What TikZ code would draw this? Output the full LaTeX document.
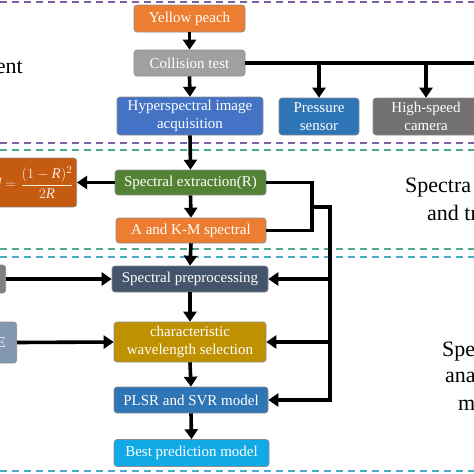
\documentclass[tikz,border=0pt]{standalone}
\usepackage{amsmath}
\usepackage{fontspec}
\setmainfont{Liberation Serif}
\usetikzlibrary{arrows.meta}
\definecolor{cOrange}{HTML}{ED7D31}
\definecolor{cGrayL}{HTML}{A0A0A0}
\definecolor{cBlueA}{HTML}{4472C4}
\definecolor{cBlueB}{HTML}{2E75B6}
\definecolor{cGrayD}{HTML}{737070}
\definecolor{cGreen}{HTML}{548235}
\definecolor{cRust}{HTML}{C55A11}
\definecolor{cSlate}{HTML}{44546A}
\definecolor{cGrayM}{HTML}{7F7F7F}
\definecolor{cBlueGray}{HTML}{8497B0}
\definecolor{cGold}{HTML}{BF9000}
\definecolor{cSky}{HTML}{11A9E6}
\definecolor{cPurple}{HTML}{7E60A8}
\definecolor{cTeal}{HTML}{4DAA8C}
\definecolor{cCyan}{HTML}{4BADCB}
\definecolor{cPeach}{HTML}{FCE8DA}
\begin{document}
\begin{tikzpicture}[x=1pt,y=-1pt,
  box/.style={draw=black!45, line width=0.6pt, rounded corners=3pt, text=white,
    font=\fontsize{15}{18}\selectfont, align=center, inner sep=0pt},
  arr/.style={line width=3.6pt, -{Triangle[length=10pt,width=13pt]}},
  ln/.style={line width=3.2pt},
  sep/.style={line width=1.8pt, dash pattern=on 7pt off 5pt},
  big/.style={font=\fontsize{22}{26}\selectfont, inner sep=0pt}]
\clip (0,0) rectangle (474,474);
% separators
\draw[sep, cPurple] (0,2) -- (474,2);
\draw[sep, cPurple] (0,143) -- (474,143);
\draw[sep, cTeal] (0,150) -- (474,150);
\draw[sep, cTeal] (0,249) -- (474,249);
\draw[sep, cCyan] (0,257) -- (474,257);
\draw[sep, cCyan] (0,471) -- (474,471);
% side texts
\node[big, anchor=base east] (t1) at (23,73) {ent};
\node[big, anchor=base west] (t2) at (405,192) {Spectra};
\node[big, anchor=base west] (t3) at (427,220) {and tr};
\node[big, anchor=base west] (t4) at (442,356) {Spe};
\node[big, anchor=base west] (t5) at (445,382) {ana};
\node[big, anchor=base west] (t6) at (458,410) {m};
% boxes
\node[box, fill=cOrange, minimum width=111pt, minimum height=27pt] (yp) at (189.5,18.5) {Yellow peach};
\node[box, fill=cGrayL, minimum width=111pt, minimum height=26pt] (ct) at (189.5,63) {Collision test};
\node[box, fill=cBlueA, minimum width=146pt, minimum height=38pt] (hia) at (190,116) {Hyperspectral image\\acquisition};
\node[box, fill=cBlueB, minimum width=80pt, minimum height=37pt] (ps) at (319,116.5) {Pressure\\sensor};
\node[box, fill=cGrayD, minimum width=106pt, minimum height=37pt] (hs) at (426,116.5) {High-speed\\camera};
\node[box, fill=cGreen, minimum width=151pt, minimum height=25pt] (se) at (190.5,182.5) {Spectral extraction(R)};
\node[box, fill=cRust, text=cPeach, minimum width=86pt, minimum height=49pt, anchor=east] (fb) at (77,182.5)
  {$\textit{d} = \dfrac{(1-\textit{R})^2}{2\textit{R}}$};
\node[box, fill=cOrange, minimum width=150pt, minimum height=25pt] (ak) at (191,230.5) {A and K-M spectral};
\node[box, fill=cSlate, minimum width=156pt, minimum height=26pt] (sp) at (190,279) {Spectral preprocessing};
\node[box, fill=cGrayM, minimum width=40pt, minimum height=28pt, anchor=east] (lg) at (6,279) {};
\node[box, fill=cGold, minimum width=152pt, minimum height=40pt] (cw) at (190,342) {characteristic\\wavelength selection};
\node[box, fill=cBlueGray, minimum width=50pt, minimum height=41pt, anchor=east] (lb) at (17,342.5) {};
\node[box, draw=none, fill=none, anchor=east] (lbt) at (6,343) {E};
\node[box, fill=cBlueB, minimum width=154pt, minimum height=26pt] (pl) at (191,400) {PLSR and SVR model};
\node[box, fill=cSky, minimum width=155pt, minimum height=27pt] (be) at (191.5,453) {Best prediction model};
% connectors
\coordinate (ce) at (480,63);
\coordinate (bx1) at (312,0);
\coordinate (bm) at (312,207);
\coordinate (bx2) at (330,0);
\draw[arr] (yp.south) -- (ct.north);
\draw[arr] (ct.south) -- (hia.north);
\draw[ln] (ct.east) -- (ce);
\draw[arr] (ct.east -| ps.north) -- (ps.north);
\draw[arr] (ct.east -| hs.north) -- (hs.north);
\draw[arr] (hia.south) -- (se.north);
\draw[arr] (se.west) -- (fb.east);
\draw[arr] (se.south) -- (ak.north);
\draw[ln] (se.east) -- (se.east -| bx1) |- (ak.east);
\draw[arr] (bm) -| (bx2 |- pl.east) -- (pl.east);
\draw[arr] (sp.east -| bx2) -- (sp.east);
\draw[arr] (cw.east -| bx2) -- (cw.east);
\draw[arr] (ak.south) -- (sp.north);
\draw[arr] (lg.east) -- (sp.west);
\draw[arr] (sp.south) -- (cw.north);
\draw[arr] (lb.east) -- (cw.west);
\draw[arr] (cw.south) -- (pl.north);
\draw[arr] (pl.south) -- (be.north);
\end{tikzpicture}
\end{document}
